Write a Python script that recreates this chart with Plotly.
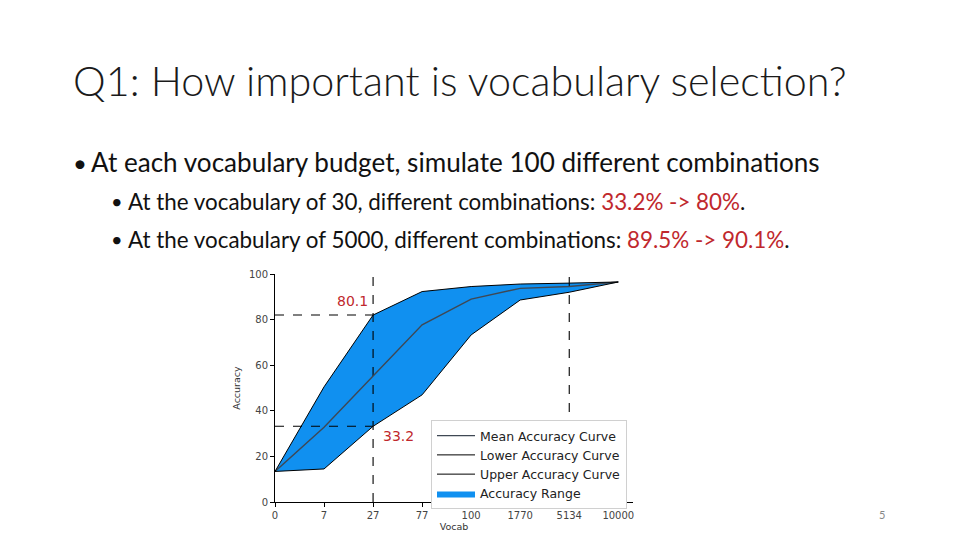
import plotly.graph_objects as go

# ---- data ----
vocab_labels = ["0", "7", "27", "77", "100", "1770", "5134", "10000"]
lower_acc = [13.4, 14.5, 33.2, 47.0, 73.3, 88.6, 92.0, 96.5]
mean_acc = [13.4, 32.8, 55.3, 77.7, 89.0, 93.7, 94.5, 96.5]
upper_acc = [13.4, 50.5, 82.0, 92.3, 94.5, 95.6, 96.0, 96.5]
y_ticks = [0, 20, 40, 60, 80, 100]
marked_vocab = ["27", "5134"]
label_low = "33.2"
label_high = "80.1"

W, H = 960, 540
def px(x):
    return x / W
def py(y):
    return 1 - y / H

xi = list(range(len(vocab_labels)))
RED = "#C0282D"
BLUE = "#1090F0"

fig = go.Figure()

# fill base + range
fig.add_trace(go.Scatter(x=xi, y=lower_acc, mode="lines", line=dict(width=0, color=BLUE),
                         showlegend=False, hoverinfo="skip"))
fig.add_trace(go.Scatter(x=xi, y=upper_acc, mode="lines", fill="tonexty", fillcolor=BLUE,
                         line=dict(width=0, color=BLUE), name="Accuracy Range", legendrank=4))

# dashed guide lines
i27 = vocab_labels.index(marked_vocab[0])
i5134 = vocab_labels.index(marked_vocab[1])
dash = dict(color="black", width=1.1, dash="dash")
for idx in (i27, i5134):
    fig.add_trace(go.Scatter(x=[idx, idx], y=[y_ticks[0], y_ticks[-1]], mode="lines",
                             line=dash, showlegend=False, hoverinfo="skip"))
for val in (upper_acc[i27], lower_acc[i27]):
    fig.add_trace(go.Scatter(x=[xi[0], i27], y=[val, val], mode="lines",
                             line=dash, showlegend=False, hoverinfo="skip"))

fig.add_trace(go.Scatter(x=xi, y=mean_acc, mode="lines", line=dict(color="#3f4854", width=1.4),
                         name="Mean Accuracy Curve", legendrank=1))
fig.add_trace(go.Scatter(x=xi, y=lower_acc, mode="lines", line=dict(color="black", width=1),
                         name="Lower Accuracy Curve", legendrank=2))
fig.add_trace(go.Scatter(x=xi, y=upper_acc, mode="lines", line=dict(color="black", width=1),
                         name="Upper Accuracy Curve", legendrank=3))

tickfont = dict(family="DejaVu Sans", size=10, color="#444")
fig.update_xaxes(domain=[px(275), px(633)], range=[0, 7.3], tickvals=xi, ticktext=vocab_labels,
                 showline=True, linecolor="black", linewidth=1, ticks="outside", ticklen=4,
                 tickcolor="black", showgrid=False, zeroline=False, tickfont=tickfont,
                 automargin=False,
                 title=dict(text="Vocab", font=dict(family="DejaVu Sans", size=9.5, color="#333"),
                            standoff=0))
fig.update_yaxes(domain=[py(502), py(274)], range=[0, 100], tickvals=y_ticks,
                 showline=True, linecolor="black", linewidth=1, ticks="outside", ticklen=4,
                 tickcolor="black", showgrid=False, zeroline=False, tickfont=tickfont,
                 automargin=False,
                 title=dict(text="Accuracy", font=dict(family="DejaVu Sans", size=9.5, color="#333"),
                            standoff=6))

anns = []
# slide title
anns.append(dict(x=px(71), y=py(80), xref="paper", yref="paper", xanchor="left", yanchor="middle",
                 text="Q1: How important is vocabulary selection?", showarrow=False,
                 font=dict(family="Lato", size=41.3, color="#1a1a1a", weight=300)))
# bullets
anns.append(dict(x=px(71), y=py(162), xref="paper", yref="paper", xanchor="left", yanchor="middle",
                 text="•", showarrow=False, font=dict(family="Lato", size=24, color="#111")))
anns.append(dict(x=px(89), y=py(162), xref="paper", yref="paper", xanchor="left", yanchor="middle",
                 text="At each vocabulary budget, simulate 100 different combinations", showarrow=False,
                 font=dict(family="Lato", size=26.1, color="#111")))
sub = [
    ("At the vocabulary of 30, different combinations: ", "33.2% -> 80%", 201),
    ("At the vocabulary of 5000, different combinations: ", "89.5% -> 90.1%", 239),
]
for t1, t2, yy in sub:
    anns.append(dict(x=px(109), y=py(yy), xref="paper", yref="paper", xanchor="left", yanchor="middle",
                     text="•", showarrow=False, font=dict(family="Lato", size=20, color="#111")))
    anns.append(dict(x=px(126), y=py(yy), xref="paper", yref="paper", xanchor="left", yanchor="middle",
                     text=f"{t1}<span style='color:{RED}'>{t2}</span>.", showarrow=False,
                     font=dict(family="Lato", size=22.4, color="#111")))
# value labels
anns.append(dict(x=px(352), y=py(301), xref="paper", yref="paper", text=label_high, showarrow=False,
                 xanchor="center", yanchor="middle",
                 font=dict(family="DejaVu Sans", size=14, color=RED)))
anns.append(dict(x=px(398), y=py(436), xref="paper", yref="paper", text=label_low, showarrow=False,
                 xanchor="center", yanchor="middle",
                 font=dict(family="DejaVu Sans", size=14, color=RED)))
# page number
anns.append(dict(x=px(882), y=py(514), xref="paper", yref="paper", text="5", showarrow=False,
                 xanchor="center", yanchor="middle",
                 font=dict(family="Lato", size=11, color="#888")))

fig.update_layout(
    width=W, height=H, margin=dict(l=0, r=0, t=0, b=0, autoexpand=False),
    paper_bgcolor="white", plot_bgcolor="white",
    annotations=anns,
    legend=dict(x=px(627), y=py(420), xanchor="right", yanchor="top",
                bgcolor="white", bordercolor="#d0d0d0", borderwidth=1,
                font=dict(family="DejaVu Sans", size=12.5, color="#222"),
                itemwidth=38, tracegroupgap=0, traceorder="normal"),
    showlegend=True,
)

fig.write_html("out.html", config={"displayModeBar": False},
               post_script="document.body.style.margin='0';document.body.style.overflow='hidden';")
